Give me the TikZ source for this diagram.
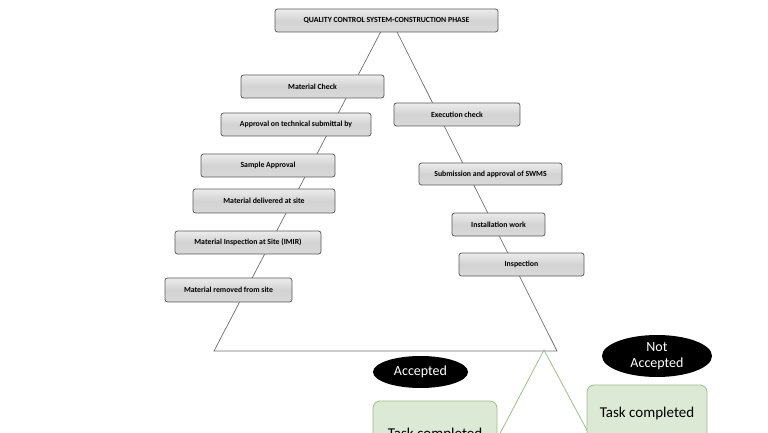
\documentclass[tikz,border=0pt]{standalone}
\usepackage{fontspec}
\setmainfont{Carlito}
\usetikzlibrary{shapes.geometric}
\definecolor{boxfill}{HTML}{D3D3D3}
\definecolor{boxline}{HTML}{5A5A5A}
\definecolor{triline}{HTML}{6E6E6E}
\definecolor{gfill}{HTML}{DCE9D5}
\definecolor{gline}{HTML}{9CBF87}
\tikzset{
  greybox/.style={draw=boxline, line width=0.8pt, rounded corners=2.5pt,
    top color=gray!15, bottom color=gray!30, middle color=boxfill,
    font=\fontsize{7.8}{8}\selectfont\bfseries, inner sep=0pt, align=center},
  blackoval/.style={ellipse, fill=black, text=white, inner sep=0pt,
    font=\fontsize{14}{15}\selectfont, align=center},
  greenbox/.style={draw=gline, fill=gfill, line width=0.8pt, rounded corners=7pt,
    inner sep=0pt, font=\fontsize{15}{16}\selectfont, align=center},
}
\begin{document}
\begin{tikzpicture}[x=1pt,y=-1pt]
\useasboundingbox (0,0) rectangle (768,433);
\clip (0,0) rectangle (768,433);
% main triangle
\coordinate (apex) at (389,16);
\coordinate (bl) at (214,351);
\coordinate (br) at (557,351);
\draw[triline, line width=0.7pt] (apex) -- (bl) -- (br) -- cycle;
% green triangle
\coordinate (gapex) at (544,350);
\coordinate (gl) at (486,460);
\coordinate (gr) at (603,460);
\draw[gline, line width=0.8pt] (gl) -- (gapex) -- (gr);
% grey boxes
\node[greybox, minimum width=223pt, minimum height=23pt] (title) at (386.5,20.5) {QUALITY CONTROL SYSTEM-CONSTRUCTION PHASE};
\node[greybox, minimum width=143pt, minimum height=23pt] (mcheck) at (312.5,86.5) {Material Check};
\node[greybox, minimum width=150pt, minimum height=23pt] (approval) at (296,124.5) {Approval on technical submittal by};
\node[greybox, minimum width=134pt, minimum height=23pt] (sample) at (268,165.5) {Sample Approval};
\node[greybox, minimum width=142pt, minimum height=24pt] (delivered) at (264,201) {Material delivered at site};
\node[greybox, minimum width=146pt, minimum height=23pt] (imir) at (248,242.5) {Material Inspection at Site (IMIR)};
\node[greybox, minimum width=127pt, minimum height=24pt] (removed) at (228.5,290) {Material removed from site};
\node[greybox, minimum width=126pt, minimum height=23pt] (exec) at (457,114.5) {Execution check};
\node[greybox, minimum width=143pt, minimum height=22pt] (swms) at (490.5,174) {Submission and approval of SWMS};
\node[greybox, minimum width=93pt, minimum height=23pt] (install) at (498.5,224.5) {Installation work};
\node[greybox, minimum width=125pt, minimum height=23pt] (insp) at (521.5,264.5) {Inspection};
% ovals
\node[blackoval, minimum width=95pt, minimum height=32pt] (acc) at (420.5,372) {Accepted};
\node[blackoval, minimum width=110pt, minimum height=42pt] (nacc) at (657,356) {Not\\[1pt]Accepted};
% green boxes
\node[greenbox, minimum width=124pt, minimum height=66pt] (taskl) at (435,434) {Task completed};
\node[greenbox, minimum width=120pt, minimum height=56pt] (taskr) at (647,413) {Task completed};
\end{tikzpicture}
\end{document}
